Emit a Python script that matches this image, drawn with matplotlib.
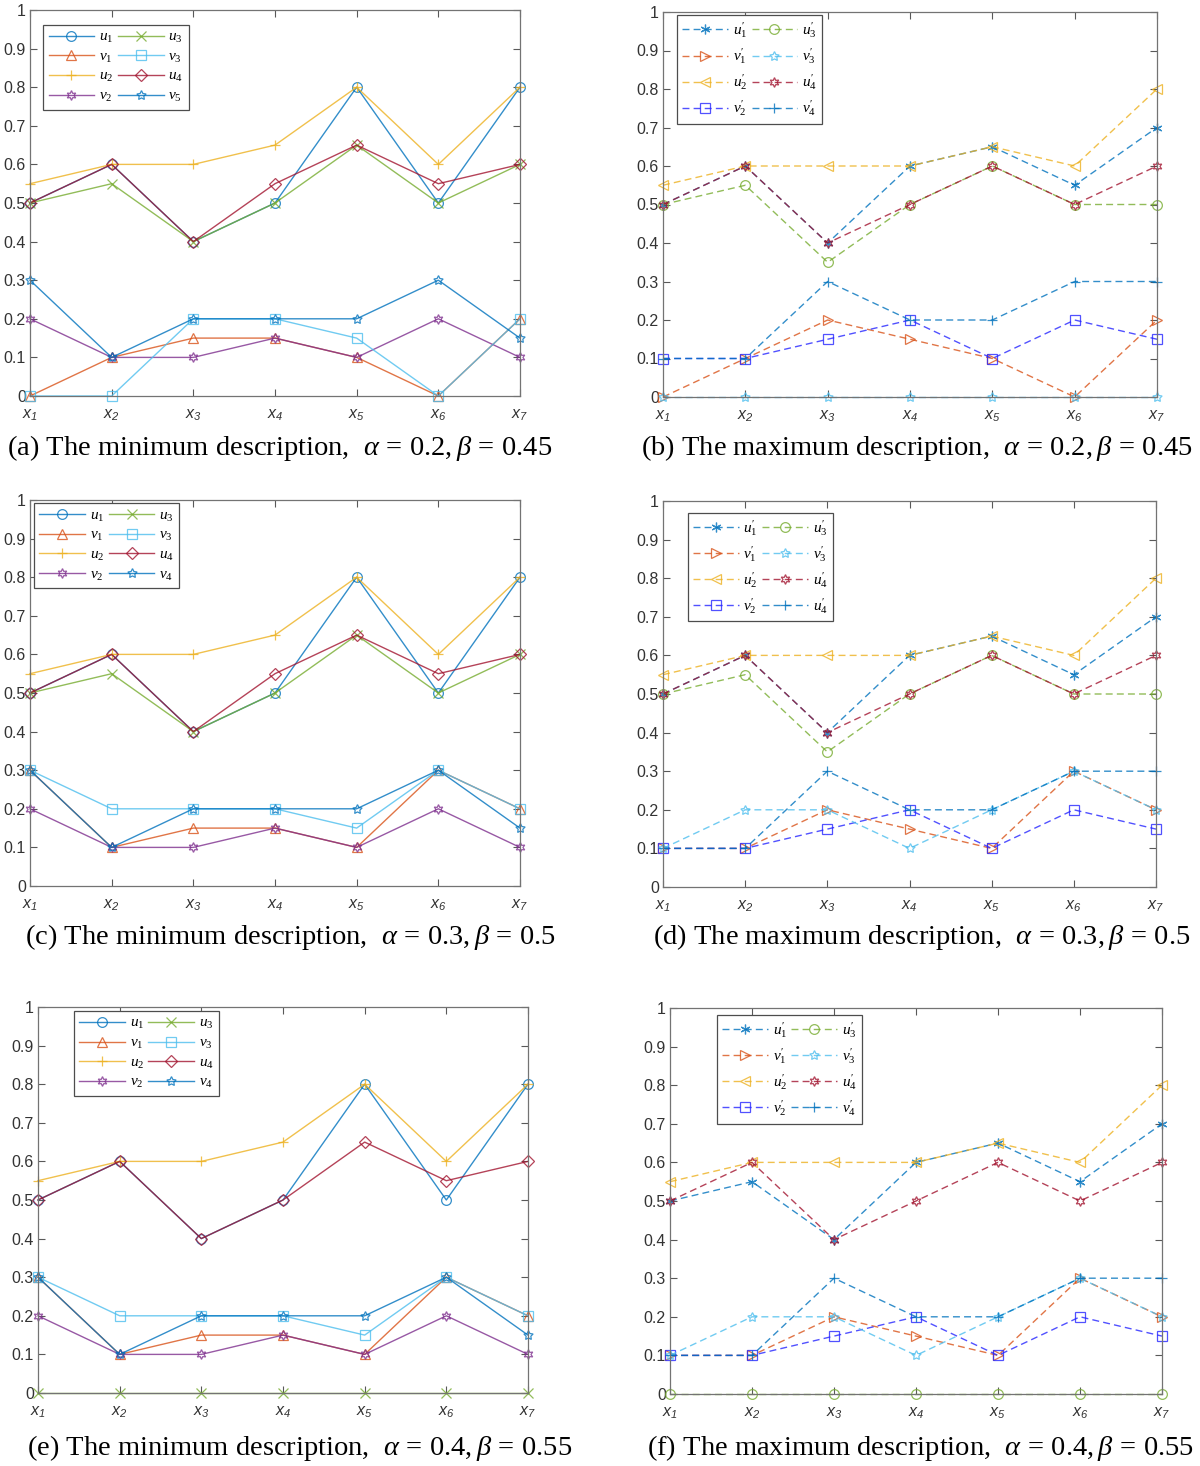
import numpy as np
import matplotlib
matplotlib.use("Agg")
import matplotlib.pyplot as plt
from matplotlib.ticker import FormatStrFormatter

plt.rcParams['font.family'] = ['Liberation Sans', 'DejaVu Sans']
plt.rcParams['mathtext.fontset'] = 'custom'
plt.rcParams['mathtext.rm'] = 'Liberation Serif'
plt.rcParams['mathtext.it'] = 'Liberation Serif:italic'
plt.rcParams['mathtext.sf'] = 'Liberation Sans:italic'

# objects x1..x7
x_labels = ['x_1', 'x_2', 'x_3', 'x_4', 'x_5', 'x_6', 'x_7']
y_ticks = [0, 0.1, 0.2, 0.3, 0.4, 0.5, 0.6, 0.7, 0.8, 0.9, 1]

# (a) minimum description, alpha=0.2, beta=0.45
names_a = ['u_1', 'v_1', 'u_2', 'v_2', 'u_3', 'v_3', 'u_4', 'v_5']
panel_a = [
    [0.5, 0.6, 0.4, 0.5, 0.8, 0.5, 0.8],
    [0, 0.1, 0.15, 0.15, 0.1, 0, 0.2],
    [0.55, 0.6, 0.6, 0.65, 0.8, 0.6, 0.8],
    [0.2, 0.1, 0.1, 0.15, 0.1, 0.2, 0.1],
    [0.5, 0.55, 0.4, 0.5, 0.65, 0.5, 0.6],
    [0, 0, 0.2, 0.2, 0.15, 0, 0.2],
    [0.5, 0.6, 0.4, 0.55, 0.65, 0.55, 0.6],
    [0.3, 0.1, 0.2, 0.2, 0.2, 0.3, 0.15],
]

# (b) maximum description, alpha=0.2, beta=0.45
names_b = ['u_1', 'v_1', 'u_2', 'v_2', 'u_3', 'v_3', 'u_4', 'v_4']
panel_b = [
    [0.5, 0.6, 0.4, 0.6, 0.65, 0.55, 0.7],
    [0, 0.1, 0.2, 0.15, 0.1, 0, 0.2],
    [0.55, 0.6, 0.6, 0.6, 0.65, 0.6, 0.8],
    [0.1, 0.1, 0.15, 0.2, 0.1, 0.2, 0.15],
    [0.5, 0.55, 0.35, 0.5, 0.6, 0.5, 0.5],
    [0, 0, 0, 0, 0, 0, 0],
    [0.5, 0.6, 0.4, 0.5, 0.6, 0.5, 0.6],
    [0.1, 0.1, 0.3, 0.2, 0.2, 0.3, 0.3],
]

# (c) minimum description, alpha=0.3, beta=0.5
names_c = ['u_1', 'v_1', 'u_2', 'v_2', 'u_3', 'v_3', 'u_4', 'v_4']
panel_c = [
    [0.5, 0.6, 0.4, 0.5, 0.8, 0.5, 0.8],
    [0.3, 0.1, 0.15, 0.15, 0.1, 0.3, 0.2],
    [0.55, 0.6, 0.6, 0.65, 0.8, 0.6, 0.8],
    [0.2, 0.1, 0.1, 0.15, 0.1, 0.2, 0.1],
    [0.5, 0.55, 0.4, 0.5, 0.65, 0.5, 0.6],
    [0.3, 0.2, 0.2, 0.2, 0.15, 0.3, 0.2],
    [0.5, 0.6, 0.4, 0.55, 0.65, 0.55, 0.6],
    [0.3, 0.1, 0.2, 0.2, 0.2, 0.3, 0.15],
]

# (d) maximum description, alpha=0.3, beta=0.5 (last legend entry reads u'_4 in the source)
names_d = ['u_1', 'v_1', 'u_2', 'v_2', 'u_3', 'v_3', 'u_4', 'u_4']
panel_d = [
    [0.5, 0.6, 0.4, 0.6, 0.65, 0.55, 0.7],
    [0.1, 0.1, 0.2, 0.15, 0.1, 0.3, 0.2],
    [0.55, 0.6, 0.6, 0.6, 0.65, 0.6, 0.8],
    [0.1, 0.1, 0.15, 0.2, 0.1, 0.2, 0.15],
    [0.5, 0.55, 0.35, 0.5, 0.6, 0.5, 0.5],
    [0.1, 0.2, 0.2, 0.1, 0.2, 0.3, 0.2],
    [0.5, 0.6, 0.4, 0.5, 0.6, 0.5, 0.6],
    [0.1, 0.1, 0.3, 0.2, 0.2, 0.3, 0.3],
]

# (e) minimum description, alpha=0.4, beta=0.55
names_e = ['u_1', 'v_1', 'u_2', 'v_2', 'u_3', 'v_3', 'u_4', 'v_4']
panel_e = [
    [0.5, 0.6, 0.4, 0.5, 0.8, 0.5, 0.8],
    [0.3, 0.1, 0.15, 0.15, 0.1, 0.3, 0.2],
    [0.55, 0.6, 0.6, 0.65, 0.8, 0.6, 0.8],
    [0.2, 0.1, 0.1, 0.15, 0.1, 0.2, 0.1],
    [0, 0, 0, 0, 0, 0, 0],
    [0.3, 0.2, 0.2, 0.2, 0.15, 0.3, 0.2],
    [0.5, 0.6, 0.4, 0.5, 0.65, 0.55, 0.6],
    [0.3, 0.1, 0.2, 0.2, 0.2, 0.3, 0.15],
]

# (f) maximum description, alpha=0.4, beta=0.55
names_f = ['u_1', 'v_1', 'u_2', 'v_2', 'u_3', 'v_3', 'u_4', 'v_4']
panel_f = [
    [0.5, 0.55, 0.4, 0.6, 0.65, 0.55, 0.7],
    [0.1, 0.1, 0.2, 0.15, 0.1, 0.3, 0.2],
    [0.55, 0.6, 0.6, 0.6, 0.65, 0.6, 0.8],
    [0.1, 0.1, 0.15, 0.2, 0.1, 0.2, 0.15],
    [0, 0, 0, 0, 0, 0, 0],
    [0.1, 0.2, 0.2, 0.1, 0.2, 0.3, 0.2],
    [0.5, 0.6, 0.4, 0.5, 0.6, 0.5, 0.6],
    [0.1, 0.1, 0.3, 0.2, 0.2, 0.3, 0.3],
]

captions = [
    r'(a) The minimum description,  $\alpha\,=\,0.2, \beta\,=\,0.45$',
    r'(b) The maximum description,  $\alpha\,=\,0.2, \beta\,=\,0.45$',
    r'(c) The minimum description,  $\alpha\,=\,0.3, \beta\,=\,0.5$',
    r'(d) The maximum description,  $\alpha\,=\,0.3, \beta\,=\,0.5$',
    r'(e) The minimum description,  $\alpha\,=\,0.4, \beta\,=\,0.55$',
    r'(f) The maximum description,  $\alpha\,=\,0.4, \beta\,=\,0.55$',
]

# matlab default line colours
C1 = (0.0, 0.447, 0.741)
C2 = (0.85, 0.325, 0.098)
C3 = (0.929, 0.694, 0.125)
C4 = (0.494, 0.184, 0.556)
C5 = (0.466, 0.674, 0.188)
C6 = (0.301, 0.745, 0.933)
C7 = (0.635, 0.078, 0.184)
BLUE = (0.15, 0.15, 1.0)

HEXAGRAM = (6, 1, 0)
PENTAGRAM = (5, 1, 0)
ASTERISK = (6, 2, 0)

min_styles = [(C1, 'o'), (C2, '^'), (C3, '+'), (C4, HEXAGRAM),
              (C5, 'x'), (C6, 's'), (C7, 'D'), (C1, PENTAGRAM)]
max_styles = [(C1, ASTERISK), (C2, '>'), (C3, '<'), (BLUE, 's'),
              (C5, 'o'), (C6, PENTAGRAM), (C7, HEXAGRAM), (C1, '+')]

# axes rectangles in figure fraction, legend anchors in axes fraction
W, H = 1200, 1466
def rect(x0, x1, ytop, ybot):
    return [x0 / W, 1 - ybot / H, (x1 - x0) / W, (ybot - ytop) / H]

panels = [
    (panel_a, names_a, min_styles, False, rect(30, 520, 10, 396), (0.027, 0.962)),
    (panel_b, names_b, max_styles, True, rect(663, 1157, 12, 397), (0.028, 0.992)),
    (panel_c, names_c, min_styles, False, rect(30, 520, 500, 886), (0.008, 0.992)),
    (panel_d, names_d, max_styles, True, rect(663, 1156, 501, 887), (0.05, 0.97)),
    (panel_e, names_e, min_styles, False, rect(38, 528, 1007, 1393), (0.073, 0.99)),
    (panel_f, names_f, max_styles, True, rect(670, 1162, 1008, 1394), (0.095, 0.982)),
]
caption_pos = [(280, 448), (917, 448), (291, 937), (922, 937), (300, 1448), (920, 1448)]

fig = plt.figure(figsize=(12, 14.66), dpi=100)
x = np.arange(1, len(x_labels) + 1)

for (rows, names, styles, dashed, r, anchor), cap, cpos in zip(panels, captions, caption_pos):
    ax = fig.add_axes(r)
    for vals, name, (col, mk) in zip(rows, names, styles):
        base, sub = name.split('_')
        if dashed:
            label = r'$%s^{\prime}_{\mathit{%s}}$' % (base, sub)
            ls = (0, (5, 3))
        else:
            label = r'$%s_{\mathit{%s}}$' % (base, sub)
            ls = '-'
        ms = 6 if mk == 'D' else 7
        ax.plot(x, vals, color=col, linestyle=ls, linewidth=1.0, alpha=0.8,
                marker=mk, markersize=ms, markerfacecolor='none',
                markeredgecolor=col, markeredgewidth=0.9, label=label, clip_on=False)
    ax.set_xlim(1, 7)
    ax.set_ylim(0, 1)
    ax.set_xticks(x)
    ax.set_xticklabels([r'$\mathsf{%s}$' % s for s in x_labels], fontsize=13.5, color='0.25')
    ax.set_yticks(y_ticks)
    ax.yaxis.set_major_formatter(FormatStrFormatter('%g'))
    ax.tick_params(direction='in', length=5, width=0.8, top=True, right=True,
                   colors='0.35', labelsize=11.5, labelcolor='0.2', pad=3)
    ax.tick_params(axis='x', pad=8)
    for sp in ax.spines.values():
        sp.set_color('0.45')
        sp.set_linewidth(0.9)
    leg = ax.legend(ncol=2, loc='upper left', bbox_to_anchor=anchor, fontsize=11,
                    handlelength=3.0, handletextpad=0.3, columnspacing=0.3,
                    labelspacing=0.4 if dashed else 0.3, borderpad=0.35,
                    fancybox=False, framealpha=1, edgecolor='0.3', borderaxespad=0)
    leg.get_frame().set_linewidth(0.9)
    fig.text(cpos[0] / W, 1 - cpos[1] / H, cap, ha='center', va='center',
             fontsize=20.5, family='Liberation Serif')

fig.savefig('out.png', dpi=100)
